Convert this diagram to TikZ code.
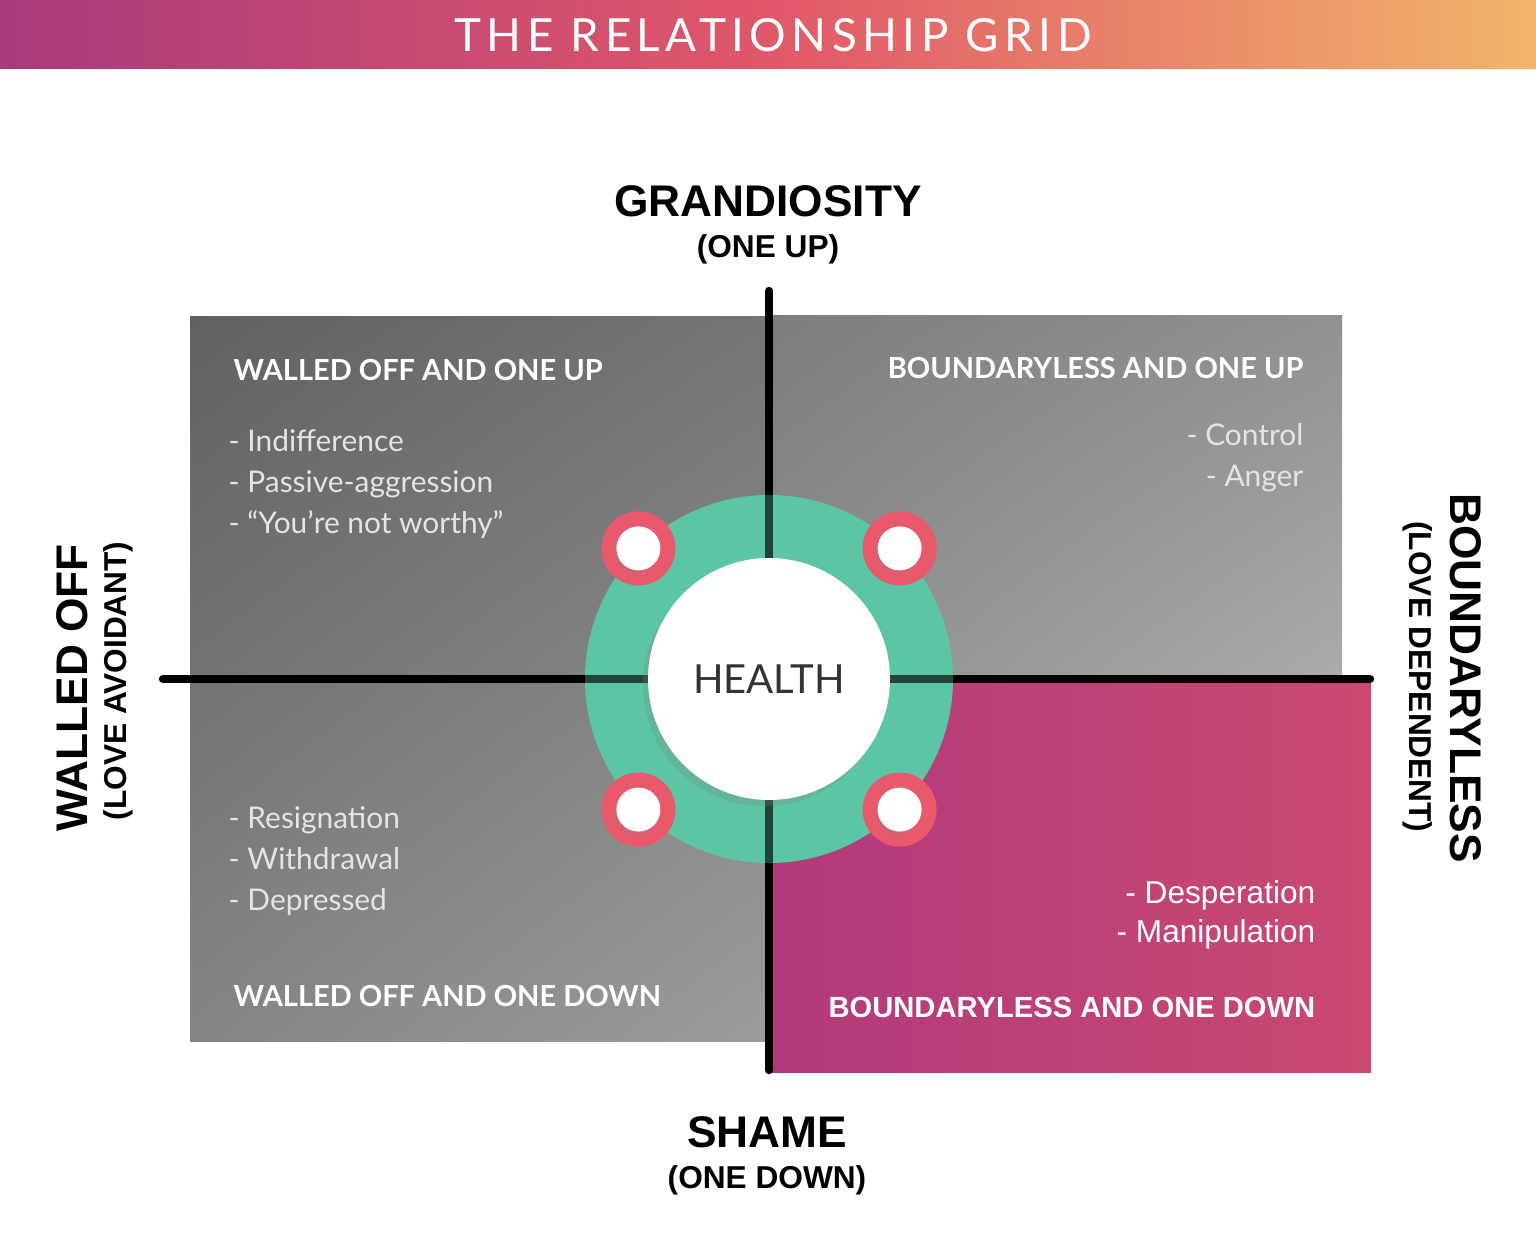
\documentclass[tikz,border=0pt]{standalone}
\usepackage{fontspec}
\setmainfont{Lato}
\newfontfamily\labelfont{Liberation Sans}
\usepackage{tikz}
\usetikzlibrary{positioning, shadows, shadings}
\usepackage{xcolor}
\definecolor{bandL}{HTML}{A93A7C}
\definecolor{bandM}{HTML}{E05769}
\definecolor{bandR}{HTML}{F2B56A}
\definecolor{ringgreen}{HTML}{5CC5A5}
\definecolor{dotpink}{HTML}{E9596C}
\definecolor{magL}{HTML}{B13A7D}
\definecolor{magR}{HTML}{CA4971}

\begin{document}
\begin{tikzpicture}[
    axis line/.style={line width=2.4pt, line cap=round},
    big label/.style={inner sep=0pt, font=\labelfont\bfseries\fontsize{12.6}{14}\selectfont},
    sub label/.style={inner sep=0pt, font=\labelfont\bfseries\fontsize{9}{10.8}\selectfont},
    quad title/.style={inner sep=0pt, text=white, font=\bfseries\fontsize{8.25}{10}\selectfont},
    quad item/.style={inner sep=0pt, text=white!90!black, font=\fontsize{8.5}{11.7}\selectfont},
    pink title/.style={inner sep=0pt, text=white, font=\labelfont\bfseries\fontsize{8.3}{10}\selectfont},
    pink item/.style={inner sep=0pt, text=white, font=\labelfont\fontsize{9}{11.1}\selectfont},
    dot ring/.style={circle, fill=dotpink, inner sep=0pt, minimum size=0.74cm},
    dot core/.style={circle, fill=white, inner sep=0pt, minimum size=0.44cm,
        drop shadow={opacity=0.2, shadow xshift=-0.03cm, shadow yshift=-0.04cm}},
]
    % 画布
    \useasboundingbox (0,0) rectangle (15.36,12.44);
    \fill[white] (0,0) rectangle (15.36,12.44);

    % 标题条
    \shade[left color=bandL, right color=bandR, middle color=bandM] (0,11.75) rectangle (15.36,12.44);
    \node[inner sep=0pt, text=white, font=\addfontfeatures{LetterSpace=12}\fontsize{13}{14}\selectfont]
        (title) at (7.73,12.09) {THE RELATIONSHIP GRID};

    % 四个象限
    \shade[upper left=black!62, upper right=black!54, lower left=black!48, lower right=black!39]
        (1.90,2.03) rectangle (7.69,9.27);
    \shade[upper left=black!51, upper right=black!43, lower left=black!44, lower right=black!33]
        (7.69,5.65) rectangle (13.42,9.28);
    \shade[upper left=magL, upper right=magR, lower left=magL, lower right=magR]
        (7.69,1.72) rectangle (13.71,5.65);

    % 坐标轴
    \coordinate (ctr) at (7.69,5.65);
    \coordinate (up) at (7.69,9.53);
    \coordinate (down) at (7.69,1.74);
    \coordinate (west) at (1.63,5.65);
    \coordinate (east) at (13.70,5.65);
    \draw[axis line] (up) -- (down);
    \draw[axis line] (west) -- (east);

    % 中心圆环
    \node[circle, fill=ringgreen, inner sep=0pt, minimum size=3.68cm] (ring) at (ctr) {};
    \begin{scope}
        \clip (ctr) circle (1.84);
        \draw[axis line, opacity=0.65] (up) -- (down);
        \draw[axis line, opacity=0.65] (west) -- (east);
    \end{scope}
    \node[circle, fill=white, inner sep=0pt, minimum size=2.42cm, text=black!80,
        font=\fontsize{11.4}{13}\selectfont,
        drop shadow={opacity=0.25, shadow xshift=-0.05cm, shadow yshift=-0.06cm}]
        (health) at (ctr) {HEALTH};
    \foreach \ang/\nm in {45/ne, 135/nw, 225/sw, 315/se} {
        \node[dot ring] (dot\nm) at (ring.\ang) {};
        \node[dot core] (core\nm) at (dot\nm) {};
    }

    % 轴标签
    \node[big label] (grand) at (7.68,10.43) {GRANDIOSITY};
    \node[sub label, below=0.17cm of grand] (oneup) {(ONE UP)};
    \node[big label] (shame) at (7.67,1.12) {SHAME};
    \node[sub label, below=0.16cm of shame] (onedown) {(ONE DOWN)};
    \node[big label, rotate=90] (walled) at (0.72,5.56) {WALLED OFF};
    \node[sub label, rotate=90] (avoidant) at (1.18,5.63) {(LOVE AVOIDANT)};
    \node[big label, rotate=-90] (boundless) at (14.66,5.66) {BOUNDARYLESS};
    \node[sub label, rotate=-90] (dependent) at (14.18,5.67) {(LOVE DEPENDENT)};

    % 象限文字
    \node[quad title, anchor=west] (wou) at (2.33,8.74) {WALLED OFF AND ONE UP};
    \node[quad item, anchor=north west, align=left] (woulist) at (2.28,8.15)
        {- Indifference\\- Passive-aggression\\- “You’re not worthy”};
    \node[quad title, anchor=east] (bou) at (13.04,8.76) {BOUNDARYLESS AND ONE UP};
    \node[quad item, anchor=north east, align=right] (boulist) at (13.04,8.21)
        {- Control\\- Anger};
    \node[quad item, anchor=north west, align=left] (wodlist) at (2.28,4.38)
        {- Resignation\\- Withdrawal\\- Depressed};
    \node[quad title, anchor=west] (wod) at (2.33,2.48) {WALLED OFF AND ONE DOWN};
    \node[pink item, anchor=north east, align=right] (bodlist) at (13.16,3.64)
        {- Desperation\\- Manipulation};
    \node[pink title, anchor=east] (bod) at (13.16,2.37) {BOUNDARYLESS AND ONE DOWN};
\end{tikzpicture}
\end{document}
